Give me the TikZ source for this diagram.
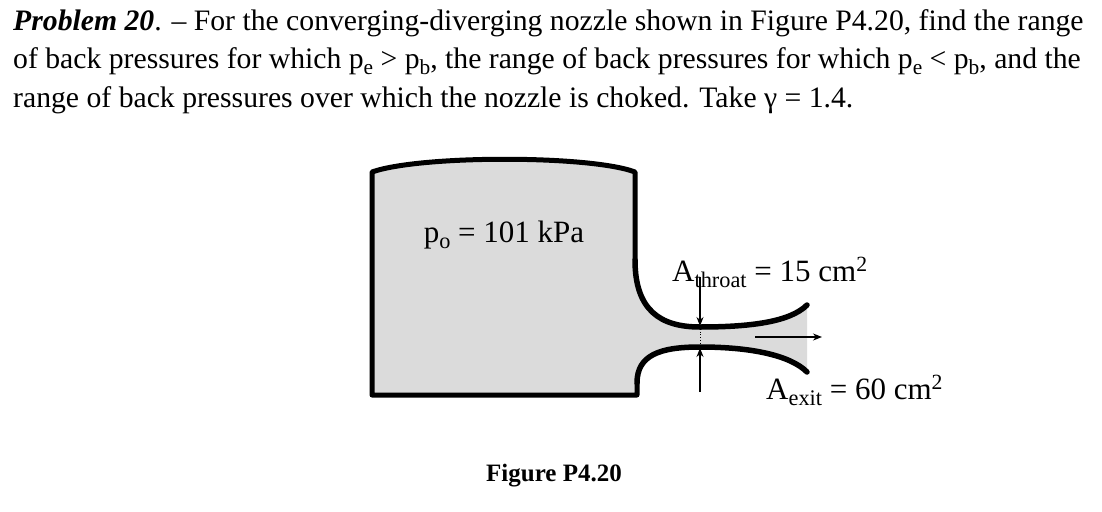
\documentclass[tikz,border=0pt]{standalone}
\usepackage{fontspec}
\setmainfont{Liberation Serif}
\usetikzlibrary{arrows.meta}
\newcommand{\sbs}[1]{\raisebox{-0.2em}{\fontsize{0.72em}{0.72em}\selectfont #1}}
\begin{document}
\begin{tikzpicture}[x=1pt,y=-1pt,
  hdr/.style={anchor=base west,inner sep=0,font=\fontsize{29.7}{32}\selectfont},
  lbl/.style={inner sep=0,font=\fontsize{31}{34}\selectfont},
  wall/.style={line width=5.5pt,line cap=round},
  arr/.style={line width=1.2pt,-{Stealth[length=9pt,width=7pt]}}]
\useasboundingbox (0,0) rectangle (1102,511);
% fill
\fill[gray!28] (372,172) .. controls (420,155) and (590,155) .. (635,172) -- (635,260)
  .. controls (635,310) and (660,327) .. (700,327) .. controls (750,327) and (790,322) .. (807,308)
  -- (807,370) .. controls (790,356) and (750,347) .. (700,347)
  .. controls (660,347) and (637,355) .. (637,383) -- (637,395) -- (372,395) -- cycle;
% tank
\draw[line width=5pt,line join=round] (635,260) -- (635,172) .. controls (590,155) and (420,155) .. (372,172) -- (372,395) -- (637,395) -- (637,383);
\draw[wall] (635,260) .. controls (635,310) and (660,327) .. (700,327) .. controls (750,327) and (790,322) .. (807,305);
\draw[wall] (637,383) .. controls (637,355) and (660,347) .. (700,347) .. controls (750,347) and (790,355) .. (807,372);
% arrows
\coordinate (t1) at (700,277); \coordinate (t2) at (700,326);
\coordinate (b1) at (700,392); \coordinate (b2) at (700,348);
\draw[arr] (t1) -- (t2);
\draw[arr] (b1) -- (b2);
\draw[dotted,line width=0.8pt] (t2) -- (b2);
\coordinate (f1) at (755,337); \coordinate (f2) at (822,337);
\draw[arr] (f1) -- (f2);
% header
\node[hdr] at (13,31) {\textbf{\textit{Problem 20}}. – For the converging-diverging nozzle shown in Figure P4.20, find the range};
\node[hdr] at (13,69) {of back pressures for which p\sbs{e} > p\sbs{b}, the range of back pressures for which p\sbs{e} < p\sbs{b}, and the};
\node[hdr] at (13,107) {range of back pressures over which the nozzle is choked. Take γ = 1.4.};
% labels
\node[lbl,anchor=base] (po) at (504,242) {p\sbs{o} = 101 kPa};
\node[lbl,anchor=base west] (at) at (672,281) {A\sbs{throat} = 15 cm\textsuperscript{2}};
\node[lbl,anchor=base west] (ae) at (766,399) {A\sbs{exit} = 60 cm\textsuperscript{2}};
\node[inner sep=0,anchor=base,font=\fontsize{25}{28}\selectfont\bfseries] (fig) at (554,481) {Figure P4.20};
\end{tikzpicture}
\end{document}
